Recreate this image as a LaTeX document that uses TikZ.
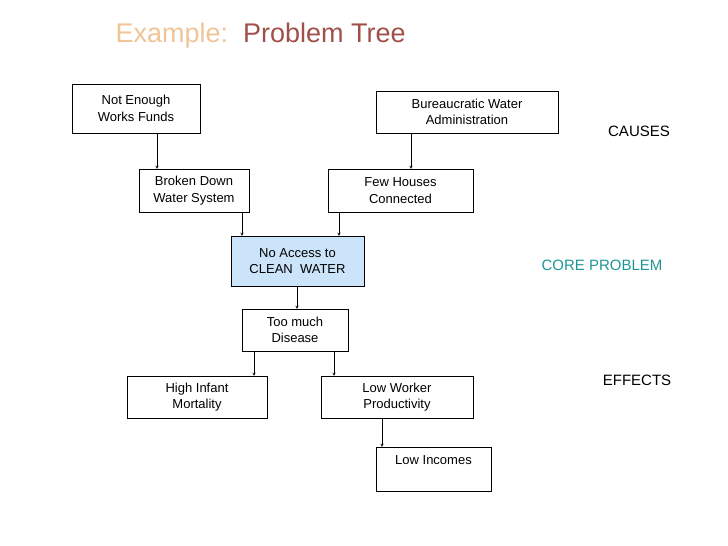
\documentclass[tikz,border=0pt]{standalone}
\usepackage{fontspec}
\setmainfont{Liberation Sans}
\definecolor{peach}{RGB}{240,196,150}
\definecolor{brick}{RGB}{160,80,72}
\definecolor{teal2}{RGB}{30,150,150}
\definecolor{paleblue}{RGB}{204,228,250}
\begin{document}
\begin{tikzpicture}
[
x=1pt, y=-1pt,
every node/.style={font=\fontsize{13}{16.5}\selectfont, align=center},
box/.style={draw, inner sep=0pt},
arr/.style={->, >=stealth}
]
\useasboundingbox (0,0) rectangle (728,546);

\node[anchor=west, font=\fontsize{27}{31}\selectfont] (title) at (112,36)
  {\textcolor{peach}{Example:}\ \ \textcolor{brick}{Problem Tree}};

% causes
\node[box, minimum width=128, minimum height=49] (funds) at (136,108.5) {Not Enough\\Works Funds};
\node[box, minimum width=182, minimum height=42] (admin) at (467,112) {Bureaucratic Water\\Administration};
\node[box, minimum width=110, minimum height=43] (broken) at (194,190.5) {Broken Down\\Water System};
\node[box, minimum width=145, minimum height=43] (houses) at (400.5,190.5) {Few Houses\\Connected};
% core problem
\node[box, fill=paleblue, minimum width=133, minimum height=50] (core) at (297.5,261) {No Access to\\CLEAN\ \ WATER};
% effects
\node[box, minimum width=106, minimum height=42] (disease) at (295,330) {Too much\\Disease};
\node[box, minimum width=140, minimum height=42] (infant) at (197,397) {High Infant\\Mortality};
\node[box, minimum width=152, minimum height=42] (worker) at (397,397) {Low Worker\\Productivity};
\node[box, minimum width=115, minimum height=44, text depth=18] (income) at (433.5,469) {Low Incomes};

\node[font=\fontsize{15}{18}\selectfont] (causes) at (639,131) {CAUSES};
\node[font=\fontsize{15}{18}\selectfont, text=teal2] (coreLbl) at (602,265) {CORE PROBLEM};
\node[font=\fontsize{15}{18}\selectfont] (effects) at (637,380) {EFFECTS};

\draw[arr] (funds.south -| 157,0) -- (broken.north -| 157,0);
\draw[arr] (admin.south -| 411,0) -- (houses.north -| 411,0);
\draw[arr] (broken.south -| 242,0) -- (core.north -| 242,0);
\draw[arr] (houses.south -| 339,0) -- (core.north -| 339,0);
\draw[arr] (core.south -| 297,0) -- (disease.north -| 297,0);
\draw[arr] (disease.south -| 254,0) -- (infant.north -| 254,0);
\draw[arr] (disease.south -| 334,0) -- (worker.north -| 334,0);
\draw[arr] (worker.south -| 382,0) -- (income.north -| 382,0);
\end{tikzpicture}
\end{document}
